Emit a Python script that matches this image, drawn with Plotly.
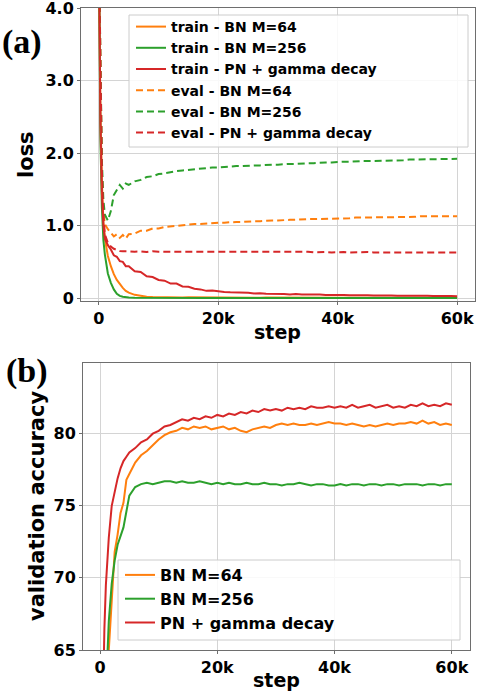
import plotly.graph_objects as go

W, H = 479, 693

# shared step grid (x) for both panels
steps = [0, 250, 500, 750, 1000, 1500, 2000, 2500, 3000, 3500, 4000, 4500, 5000,
         6000, 7000, 8000, 9000, 10000] + [k * 1000 for k in range(11, 61)]

# ---- (a) loss curves
train_bn64 = [4.8, 2.6, 1.6, 1.05, 0.82, 0.58, 0.44, 0.33, 0.25, 0.19, 0.14, 0.10, 0.075,
              0.045, 0.03, 0.02, 0.015, 0.012,
              0.011, 0.01, 0.01, 0.009, 0.01, 0.009, 0.008, 0.009, 0.008, 0.008,
              0.008, 0.007, 0.008, 0.007, 0.007, 0.007, 0.006, 0.007, 0.006, 0.006,
              0.006, 0.006, 0.005, 0.006, 0.005, 0.005, 0.005, 0.005, 0.005, 0.005,
              0.005, 0.004, 0.005, 0.004, 0.004, 0.004, 0.004, 0.004, 0.004, 0.004,
              0.004, 0.004, 0.004, 0.004, 0.004, 0.004, 0.004, 0.004, 0.004, 0.004]
train_bn256 = [4.8, 2.2, 1.25, 0.8, 0.6, 0.34, 0.21, 0.12, 0.06, 0.03, 0.018, 0.011, 0.008,
               0.005, 0.004, 0.004, 0.003, 0.003,
               0.003, 0.003, 0.003, 0.003, 0.003, 0.003, 0.003, 0.003, 0.003, 0.003,
               0.003, 0.003, 0.003, 0.003, 0.003, 0.003, 0.003, 0.003, 0.003, 0.003,
               0.003, 0.003, 0.003, 0.003, 0.003, 0.003, 0.003, 0.003, 0.003, 0.003,
               0.003, 0.003, 0.003, 0.003, 0.003, 0.003, 0.003, 0.003, 0.003, 0.003,
               0.003, 0.003, 0.003, 0.003, 0.003, 0.003, 0.003, 0.003, 0.003, 0.003]
train_pn = [4.8, 2.4, 1.45, 1.0, 0.82, 0.73, 0.67, 0.59, 0.57, 0.51, 0.5, 0.44, 0.44,
            0.37, 0.36, 0.3, 0.29, 0.25,
            0.24, 0.2, 0.2, 0.16, 0.155, 0.13, 0.12, 0.1, 0.105, 0.09,
            0.085, 0.08, 0.08, 0.07, 0.075, 0.065, 0.068, 0.06, 0.062, 0.055,
            0.058, 0.05, 0.055, 0.048, 0.05, 0.045, 0.048, 0.042, 0.045, 0.04,
            0.043, 0.038, 0.04, 0.036, 0.04, 0.035, 0.037, 0.033, 0.036, 0.032,
            0.034, 0.03, 0.033, 0.03, 0.032, 0.028, 0.031, 0.028, 0.03, 0.027]
eval_bn64 = [4.8, 2.8, 1.7, 1.2, 1.02, 0.95, 0.9, 0.85, 0.88, 0.83, 0.87, 0.82, 0.88,
             0.89, 0.93, 0.93, 0.96, 0.96,
             0.98, 0.99, 0.99, 1.0, 1.01, 1.02, 1.02, 1.03, 1.03, 1.04,
             1.04, 1.05, 1.05, 1.05, 1.06, 1.06, 1.06, 1.07, 1.07, 1.07,
             1.08, 1.08, 1.08, 1.09, 1.09, 1.09, 1.09, 1.1, 1.1, 1.1,
             1.1, 1.1, 1.11, 1.11, 1.11, 1.11, 1.11, 1.12, 1.12, 1.12,
             1.12, 1.12, 1.12, 1.13, 1.13, 1.13, 1.13, 1.13, 1.13, 1.13]
eval_bn256 = [4.8, 3.0, 1.9, 1.35, 1.15, 1.07, 1.2, 1.42, 1.5, 1.56, 1.51, 1.58, 1.56,
              1.61, 1.63, 1.67, 1.68, 1.71,
              1.72, 1.74, 1.75, 1.76, 1.77, 1.78, 1.78, 1.79, 1.8, 1.8,
              1.81, 1.81, 1.82, 1.82, 1.83, 1.83, 1.83, 1.84, 1.84, 1.84,
              1.85, 1.85, 1.85, 1.86, 1.86, 1.86, 1.87, 1.87, 1.87, 1.88,
              1.88, 1.88, 1.89, 1.89, 1.89, 1.89, 1.9, 1.9, 1.9, 1.9,
              1.9, 1.91, 1.91, 1.91, 1.91, 1.91, 1.92, 1.92, 1.92, 1.92]
eval_pn = [4.8, 2.9, 1.75, 1.15, 0.88, 0.76, 0.71, 0.68, 0.66, 0.65, 0.645, 0.64, 0.645,
           0.64, 0.645, 0.635, 0.645, 0.64,
           0.64, 0.645, 0.635, 0.64, 0.645, 0.64, 0.635, 0.64, 0.645, 0.64,
           0.635, 0.64, 0.64, 0.635, 0.64, 0.645, 0.635, 0.64, 0.635, 0.64,
           0.635, 0.64, 0.635, 0.635, 0.64, 0.63, 0.635, 0.635, 0.63, 0.635,
           0.635, 0.63, 0.635, 0.63, 0.635, 0.63, 0.63, 0.635, 0.63, 0.63,
           0.635, 0.63, 0.63, 0.63, 0.635, 0.63, 0.63, 0.63, 0.625, 0.63]

# ---- (b) validation accuracy
acc_bn64 = [45, 50, 55, 58, 61, 65.0, 68.5, 71.8, 73.0, 74.5, 75.2, 76.8, 77.2,
            78.0, 78.5, 78.8, 79.2, 79.6,
            79.9, 80.1, 80.2, 80.4, 80.3, 80.5, 80.4, 80.5, 80.3, 80.4,
            80.5, 80.3, 80.4, 80.2, 80.1, 80.3, 80.4, 80.5, 80.4, 80.6,
            80.7, 80.6, 80.7, 80.6, 80.6, 80.7, 80.6, 80.7, 80.8, 80.7,
            80.7, 80.6, 80.7, 80.6, 80.5, 80.6, 80.5, 80.6, 80.7, 80.6,
            80.7, 80.7, 80.8, 80.7, 80.9, 80.7, 80.8, 80.6, 80.7, 80.6]
acc_bn256 = [45, 50, 54, 58, 62, 67.0, 69.6, 71.2, 72.3, 72.9, 73.5, 74.6, 75.7,
             76.3, 76.5, 76.6, 76.5, 76.6,
             76.7, 76.7, 76.6, 76.7, 76.6, 76.6, 76.7, 76.6, 76.5, 76.6,
             76.5, 76.6, 76.5, 76.5, 76.6, 76.5, 76.5, 76.6, 76.5, 76.5,
             76.4, 76.5, 76.5, 76.6, 76.5, 76.4, 76.5, 76.5, 76.4, 76.4,
             76.5, 76.4, 76.5, 76.5, 76.4, 76.5, 76.5, 76.4, 76.5, 76.5,
             76.4, 76.5, 76.5, 76.5, 76.4, 76.5, 76.5, 76.4, 76.5, 76.5]
acc_pn = [50, 56, 62, 66.5, 69.5, 72.8, 75.0, 76.0, 76.9, 77.6, 78.1, 78.4, 78.7,
          79.0, 79.4, 79.6, 80.0, 80.2,
          80.5, 80.6, 80.8, 81.0, 80.9, 81.1, 81.0, 81.2, 81.1, 81.3,
          81.2, 81.4, 81.3, 81.5, 81.4, 81.6, 81.5, 81.7, 81.6, 81.7,
          81.6, 81.8, 81.7, 81.8, 81.7, 81.9, 81.8, 81.8, 81.9, 81.8,
          81.9, 81.8, 82.0, 81.8, 81.9, 82.0, 81.8, 81.9, 82.0, 81.8,
          81.9, 81.8, 82.0, 81.9, 82.1, 81.9, 82.0, 81.9, 82.1, 82.0]

ORANGE, GREEN, RED = "#ff7f0e", "#2ca02c", "#d62728"
FONT = "DejaVu Sans"


def px_x(p):
    return p / W


def px_y(p):
    return 1 - p / H


fig = go.Figure()

loss_series = [
    ("train - BN M=64", train_bn64, ORANGE, "solid"),
    ("train - BN M=256", train_bn256, GREEN, "solid"),
    ("train - PN + gamma decay", train_pn, RED, "solid"),
    ("eval - BN M=64", eval_bn64, ORANGE, "7px,4px"),
    ("eval - BN M=256", eval_bn256, GREEN, "7px,4px"),
    ("eval - PN + gamma decay", eval_pn, RED, "7px,4px"),
]
for i, (name, ys, col, dash) in enumerate(loss_series):
    fig.add_trace(go.Scatter(x=steps, y=ys, name=name, mode="lines",
                             line=dict(color=col, width=2, dash=dash),
                             xaxis="x", yaxis="y", legend="legend",
                             legendgroup="a%d" % i))

acc_series = [
    ("BN M=64", acc_bn64, ORANGE),
    ("BN M=256", acc_bn256, GREEN),
    ("PN + gamma decay", acc_pn, RED),
]
for i, (name, ys, col) in enumerate(acc_series):
    fig.add_trace(go.Scatter(x=steps, y=ys, name=name, mode="lines",
                             line=dict(color=col, width=2),
                             xaxis="x2", yaxis="y2", legend="legend2",
                             legendgroup="b%d" % i))

tickfont = dict(family=FONT, size=16, color="black", weight="bold")
axis_common = dict(showline=True, mirror=True, linecolor="#6e6e6e", linewidth=1,
                   showgrid=True, gridcolor="#d4d4d4", gridwidth=1, zeroline=False,
                   ticks="outside", ticklen=3, tickcolor="#6e6e6e", tickfont=tickfont,
                   automargin=False, ticklabeloverflow="allow")

fig.update_layout(
    width=W, height=H,
    margin=dict(l=0, r=0, t=0, b=0),
    paper_bgcolor="white", plot_bgcolor="white",
    xaxis=dict(domain=[px_x(81), px_x(475)], range=[-3000, 63000],
               tickvals=[0, 20000, 40000, 60000], ticktext=["0", "20k", "40k", "60k"],
               anchor="y", **axis_common),
    yaxis=dict(domain=[px_y(301), px_y(8)], range=[-0.04, 4.0],
               tickvals=[0, 1, 2, 3, 4], ticktext=["0", "1.0", "2.0", "3.0", "4.0"],
               anchor="x", **axis_common),
    xaxis2=dict(domain=[px_x(83), px_x(470)], range=[-2900, 63100],
                tickvals=[0, 20000, 40000, 60000], ticktext=["0", "20k", "40k", "60k"],
                anchor="y2", **axis_common),
    yaxis2=dict(domain=[px_y(650), px_y(363)], range=[65, 84.9],
                tickvals=[65, 70, 75, 80], ticktext=["65", "70", "75", "80"],
                anchor="x2", **axis_common),
    legend=dict(x=px_x(131), y=px_y(11), xanchor="left", yanchor="top",
                bgcolor="rgba(0,0,0,0)", borderwidth=0,
                font=dict(family=FONT, size=14, color="black", weight="bold"),
                tracegroupgap=0, itemwidth=30),
    legend2=dict(x=px_x(120), y=px_y(558), xanchor="left", yanchor="top",
                 bgcolor="rgba(0,0,0,0)", borderwidth=0,
                 font=dict(family=FONT, size=16, color="black", weight="bold"),
                 tracegroupgap=0, itemwidth=30),
    showlegend=True,
)

# legend frames (wider than the plotly legend box, like the original)
for x0, y0, x1, y1 in [(129, 15, 468, 147), (118, 560, 460, 640)]:
    fig.add_shape(type="rect", xref="paper", yref="paper", layer="above",
                  x0=px_x(x0), x1=px_x(x1), y0=px_y(y1), y1=px_y(y0),
                  fillcolor="rgba(255,255,255,0.85)",
                  line=dict(color="#cccccc", width=1))

title_font = dict(family=FONT, size=19, color="black", weight="bold")
vtitle_font = dict(family=FONT, size=21, color="black", weight="bold")
label_font = dict(family="Liberation Serif", size=34, color="black", weight="bold")
annots = [
    dict(text="step", x=px_x(277), y=px_y(332), font=title_font),
    dict(text="loss", x=px_x(26), y=px_y(155), font=vtitle_font, textangle=-90),
    dict(text="step", x=px_x(276), y=px_y(680), font=title_font),
    dict(text="validation accuracy", x=px_x(37), y=px_y(506), font=vtitle_font, textangle=-90),
    dict(text="(a)", x=px_x(22), y=px_y(42), font=label_font),
    dict(text="(b)", x=px_x(27), y=px_y(371), font=label_font),
]
for a in annots:
    fig.add_annotation(xref="paper", yref="paper", showarrow=False,
                       xanchor="center", yanchor="middle", **a)

# the page body has a default 8px margin; drop it so the figure fills the window
fig.write_html("out.html", config={"displayModeBar": False},
               post_script="document.body.style.margin='0px';")
